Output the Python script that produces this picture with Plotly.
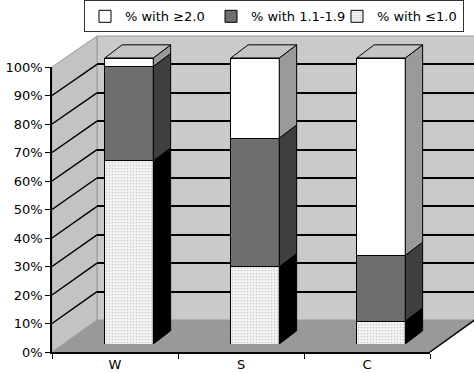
import plotly.graph_objects as go

# ---- data ----
categories = ["W", "S", "C"]
pct_le_1_0 = [64, 27, 8]      # % with <=1.0 (bottom, dotted)
pct_1_1_1_9 = [33, 45, 23]    # % with 1.1-1.9 (middle, dark gray)
pct_ge_2_0 = [3, 28, 69]      # % with >=2.0 (top, white)
series_names = ["% with \u22641.0", "% with 1.1-1.9", "% with \u22652.0"]
y_ticks = [0, 10, 20, 30, 40, 50, 60, 70, 80, 90, 100]

W, H = 474, 373
def X(px):
    return px / W
def Y(py):
    return 1 - py / H

FONT = "DejaVu Sans"
fig = go.Figure()

# styles
front_colors = ["#f0f0f0", "#6e6e6e", "#ffffff"]
side_colors = ["#000000", "#3f3f3f", "#9a9a9a"]
top_color = "#c4c4c4"
series = [pct_le_1_0, pct_1_1_1_9, pct_ge_2_0]

# ---- bars (recessed plane x3/y3) ----
bar_w = 0.385
dx, dy = 0.138, 4.6
for k, (name, vals) in enumerate(zip(series_names, series)):
    kw = {}
    if k == 0:
        kw["pattern"] = dict(shape=".", fgcolor="#a0a0a0", bgcolor="#f4f4f4", size=3, solidity=0.25)
    fig.add_trace(go.Bar(
        x=list(range(len(categories))), y=vals, name=name, width=bar_w,
        marker=dict(color=front_colors[k], line=dict(color="black", width=1), **kw),
        xaxis="x3", yaxis="y3", hoverinfo="skip"))

# side faces and top faces, computed from the data
for i in range(len(categories)):
    base = 0
    xr = i + bar_w / 2
    xl = i - bar_w / 2
    for k, vals in enumerate(series):
        b, t = base, base + vals[i]
        fig.add_trace(go.Scatter(
            x=[xr, xr + dx, xr + dx, xr, xr], y=[b, b + dy, t + dy, t, b],
            mode="lines", fill="toself", fillcolor=side_colors[k],
            line=dict(color="black", width=1), showlegend=False, hoverinfo="skip",
            xaxis="x3", yaxis="y3"))
        base = t
    fig.add_trace(go.Scatter(
        x=[xl, xl + dx, xr + dx, xr, xl], y=[base, base + dy, base + dy, base, base],
        mode="lines", fill="toself", fillcolor=top_color,
        line=dict(color="black", width=1), showlegend=False, hoverinfo="skip",
        xaxis="x3", yaxis="y3"))

# empty traces to anchor the other planes
fig.add_trace(go.Scatter(x=[], y=[], xaxis="x2", yaxis="y2", showlegend=False, hoverinfo="skip"))
fig.add_trace(go.Scatter(x=[], y=[], xaxis="x", yaxis="y", showlegend=False, hoverinfo="skip"))

# ---- walls / floor (decoration) ----
def path(pts):
    return "M " + " L ".join(f"{X(a)},{Y(b)}" for a, b in pts) + " Z"

shapes = [
    dict(type="path", path=path([(97, 36), (476, 36), (476, 320), (97, 320)]),
         xref="paper", yref="paper", fillcolor="#cacaca", line=dict(color="#9a9a9a", width=1), layer="below"),
    dict(type="path", path=path([(52, 67), (97, 36), (97, 320), (52, 352)]),
         xref="paper", yref="paper", fillcolor="#c3c3c3", line=dict(color="#9a9a9a", width=1), layer="below"),
    dict(type="path", path=path([(52, 352), (97, 320), (476, 320), (431, 352)]),
         xref="paper", yref="paper", fillcolor="#999999", line=dict(width=0), layer="below"),
    dict(type="line", x0=X(430), y0=Y(352), x1=X(476), y1=Y(319),
         xref="paper", yref="paper", line=dict(color="black", width=1.5)),
]
for v in y_ticks[1:-1]:
    shapes.append(dict(type="line", x0=X(52), y0=Y(352 - 2.85 * v), x1=X(97), y1=Y(320 - 2.84 * v),
                       xref="paper", yref="paper", line=dict(color="black", width=1.5), layer="below"))

fig.update_layout(
    width=W, height=H, margin=dict(l=0, r=0, t=0, b=0, autoexpand=False),
    paper_bgcolor="white", plot_bgcolor="rgba(0,0,0,0)",
    barmode="stack", shapes=shapes,
    font=dict(family=FONT, size=13, color="black"),
    # back wall plane (gridlines)
    xaxis=dict(domain=[X(97), 1], range=[0, 1], visible=False, fixedrange=True),
    yaxis=dict(domain=[Y(320), Y(36)], range=[0, 100], anchor="x", tickvals=y_ticks[1:-1],
               showgrid=True, gridcolor="black", gridwidth=1.5, showticklabels=False,
               ticks="", showline=False, zeroline=False),
    # front plane axes
    xaxis2=dict(domain=[X(52), X(430)], range=[-0.5, 2.5], anchor="y2",
                tickvals=list(range(len(categories))), ticktext=categories, ticks="",
                showline=True, linecolor="black", linewidth=1.5, showgrid=False, zeroline=False,
                minor=dict(tick0=-0.5, dtick=1, ticks="outside", ticklen=5, tickcolor="black", showgrid=False)),
    yaxis2=dict(domain=[Y(352), Y(67)], range=[0, 100], anchor="x2",
                tickvals=y_ticks, ticktext=[f"{v}%" for v in y_ticks], ticks="outside", ticklen=5,
                tickcolor="black", showline=True, linecolor="black", linewidth=1.5,
                showgrid=False, zeroline=False),
    # recessed bar plane
    xaxis3=dict(domain=[X(66), X(66 + 126 * 3.2)], range=[-0.5, 2.7], anchor="y3", visible=False),
    yaxis3=dict(domain=[Y(344), Y(344 - 2.86 * 108)], range=[0, 108], anchor="x3", visible=False),
    legend=dict(orientation="h", x=X(84), xanchor="left", y=0.999, yanchor="top",
                bgcolor="white", bordercolor="#333333", borderwidth=1,
                traceorder="reversed", font=dict(size=13), itemwidth=30, entrywidth=81,
                tracegroupgap=0),
    showlegend=True,
)

fig.write_html("out.html", config={"displayModeBar": False},
               post_script="document.body.style.margin='0';document.body.style.overflow='hidden';")
